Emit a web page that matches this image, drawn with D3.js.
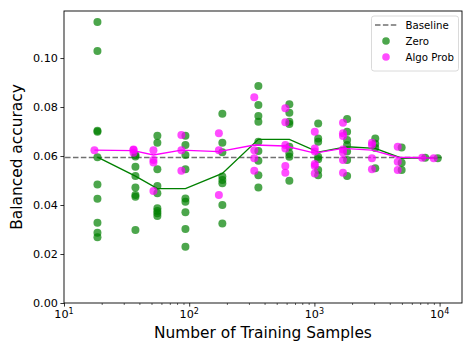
<!DOCTYPE html>
<html><head><meta charset="utf-8">
<script src="https://cdn.jsdelivr.net/npm/d3@7"></script>
<style>body{margin:0;background:#fff}svg{display:block}text{font-family:"DejaVu Sans",sans-serif;fill:#000}</style>
</head><body><div id="chart"></div>
<script>
const zeroSizes = [18.5, 37.2, 55.7, 93.3, 184, 357, 631, 1072, 1825, 3063, 4977, 7675, 9663];
const algoSizes = [17.5, 35.9, 51.8, 86.6, 172.6, 331, 586, 1007, 1692, 2882, 4630, 7262, 8974];
const zeroValues = [
  [0.1147, 0.1029, 0.0703, 0.0699, 0.0595, 0.0484, 0.0426, 0.0328, 0.0287, 0.0268],
  [0.0604, 0.0598, 0.0556, 0.0518, 0.0471, 0.0441, 0.0434, 0.0298],
  [0.0683, 0.0654, 0.0546, 0.0478, 0.0448, 0.0387, 0.0376, 0.0366, 0.0355],
  [0.0683, 0.0645, 0.0604, 0.0546, 0.0427, 0.0413, 0.0370, 0.0302, 0.0230],
  [0.0773, 0.0654, 0.0615, 0.0516, 0.0502, 0.0489, 0.0400, 0.0325],
  [0.0886, 0.0808, 0.0763, 0.0740, 0.0658, 0.0620, 0.0581, 0.0522, 0.0471],
  [0.0811, 0.0777, 0.0740, 0.0731, 0.0638, 0.0611, 0.0597, 0.0499],
  [0.0733, 0.0672, 0.0658, 0.0597, 0.0587, 0.0543, 0.0522],
  [0.0751, 0.0699, 0.0665, 0.0645, 0.0618, 0.0584, 0.0518],
  [0.0672, 0.0650, 0.0633, 0.0550],
  [0.0635, 0.0573, 0.0543],
  [0.0593],
  [0.0591]
];
const algoValues = [
  [0.0624],
  [0.0627, 0.0625, 0.0613],
  [0.0624, 0.0584, 0.0574, 0.0457],
  [0.0686, 0.0624, 0.0540],
  [0.0693, 0.0624, 0.0441],
  [0.0840, 0.0624, 0.0591, 0.0540],
  [0.0795, 0.0738, 0.0645, 0.0631, 0.0559, 0.0532],
  [0.0699, 0.0631, 0.0618, 0.0567, 0.0559, 0.0529],
  [0.0736, 0.0693, 0.0682, 0.0627, 0.0614, 0.0584, 0.0532],
  [0.0654, 0.0645, 0.0591, 0.0546],
  [0.0638, 0.0577, 0.0543],
  [0.0593],
  [0.0591]
];
const zeroLine = [0.0595, 0.0518, 0.0467, 0.0467, 0.0529, 0.0668, 0.0668, 0.0616, 0.0638, 0.0631, 0.0591, 0.0593, 0.0591];
const algoLine = [0.0624, 0.0622, 0.0604, 0.0624, 0.0618, 0.0645, 0.0641, 0.0612, 0.0631, 0.0624, 0.0595, 0.0593, 0.0591];
const baselineValue = 0.0594;
const baselineRange = [10.2, 10400];
const yTicks = [0, 0.02, 0.04, 0.06, 0.08, 0.10];
const xTicks = [10, 100, 1000, 10000];
const xTickExp = ["1", "2", "3", "4"];
const legendLabels = ["Baseline", "Zero", "Algo Prob"];

const W = 474, H = 355;
const L = 64, R = 462, T = 11, B = 303;
const svg = d3.select("#chart").append("svg").attr("width", W).attr("height", H);
const x = d3.scaleLog().domain([10, 15100]).range([L, R]);
const y = d3.scaleLinear().domain([0, 0.1192]).range([B, T]);

const ZC = "#008000", MC = "#ff00ff";
const PR = 4;

// baseline
svg.append("line").attr("x1", x(baselineRange[0])).attr("x2", x(baselineRange[1]))
  .attr("y1", y(baselineValue)).attr("y2", y(baselineValue))
  .attr("stroke", "#707070").attr("stroke-width", 1.3).attr("stroke-dasharray", "5.5,2.4");

function flat(sizes, vals) {
  const out = [];
  vals.forEach((arr, i) => arr.forEach(v => out.push([sizes[i], v])));
  return out;
}
const line = d3.line().x(d => x(d[0])).y(d => y(d[1]));

svg.append("g").selectAll("circle").data(flat(zeroSizes, zeroValues)).join("circle")
  .attr("cx", d => x(d[0])).attr("cy", d => y(d[1])).attr("r", PR)
  .attr("fill", ZC).attr("fill-opacity", 0.7);
svg.append("path").datum(zeroSizes.map((s, i) => [s, zeroLine[i]])).attr("d", line)
  .attr("fill", "none").attr("stroke", ZC).attr("stroke-width", 1.4);
svg.append("g").selectAll("circle").data(flat(algoSizes, algoValues)).join("circle")
  .attr("cx", d => x(d[0])).attr("cy", d => y(d[1])).attr("r", PR)
  .attr("fill", MC).attr("fill-opacity", 0.7);
svg.append("path").datum(algoSizes.map((s, i) => [s, algoLine[i]])).attr("d", line)
  .attr("fill", "none").attr("stroke", MC).attr("stroke-width", 1.4);

// frame
svg.append("rect").attr("x", L).attr("y", T).attr("width", R - L).attr("height", B - T)
  .attr("fill", "none").attr("stroke", "#000").attr("stroke-width", 0.9);

// y axis
const ya = svg.append("g").attr("transform", `translate(${L},0)`)
  .call(d3.axisLeft(y).tickValues(yTicks).tickFormat(d3.format(".2f")).tickSize(3.6).tickPadding(2.5));
ya.select(".domain").remove();
ya.selectAll("text").style("font-size", "11.2px").attr("font-family", "DejaVu Sans");
ya.selectAll("line").attr("stroke-width", 0.8);

// x axis major
const xa = svg.append("g").attr("transform", `translate(0,${B})`)
  .call(d3.axisBottom(x).tickValues(xTicks).tickFormat("").tickSize(3.6));
xa.select(".domain").remove();
xa.selectAll("line").attr("stroke-width", 0.8);
// minor
const minor = [];
for (let e = 1; e <= 4; e++) for (let m = 2; m <= 9; m++) { const v = m * Math.pow(10, e); if (v < 15100) minor.push(v); }
const xm = svg.append("g").attr("transform", `translate(0,${B})`)
  .call(d3.axisBottom(x).tickValues(minor).tickFormat("").tickSize(2));
xm.select(".domain").remove();
xm.selectAll("line").attr("stroke-width", 0.6);

// x tick labels
xTicks.forEach((t, i) => {
  const tx = svg.append("text").attr("x", x(t)).attr("y", 318).attr("text-anchor", "middle")
    .style("font-size", "11.2px");
  tx.append("tspan").text("10");
  tx.append("tspan").attr("dy", -4.5).style("font-size", "8px").text(xTickExp[i]);
});

// axis labels
svg.append("text").attr("x", (L + R) / 2).attr("y", 338).attr("text-anchor", "middle")
  .style("font-size", "15.4px").text("Number of Training Samples");
svg.append("text").attr("transform", `translate(22,${(T + B) / 2}) rotate(-90)`).attr("text-anchor", "middle")
  .style("font-size", "15.4px").text("Balanced accuracy");

// legend
const lg = svg.append("g");
lg.append("rect").attr("x", 371.5).attr("y", 16).attr("width", 87).attr("height", 55).attr("rx", 2.5)
  .attr("fill", "#fff").attr("fill-opacity", 0.8).attr("stroke", "#d0d0d0").attr("stroke-width", 0.8);
const rows = [25, 41, 57];
lg.append("line").attr("x1", 375).attr("x2", 397).attr("y1", rows[0]).attr("y2", rows[0])
  .attr("stroke", "#707070").attr("stroke-width", 1.3).attr("stroke-dasharray", "5.5,2.4");
lg.append("circle").attr("cx", 386).attr("cy", rows[1]).attr("r", 3.8).attr("fill", ZC).attr("fill-opacity", 0.7);
lg.append("circle").attr("cx", 386).attr("cy", rows[2]).attr("r", 3.8).attr("fill", MC).attr("fill-opacity", 0.7);
legendLabels.forEach((s, i) => {
  lg.append("text").attr("x", 405.5).attr("y", rows[i] + 3.6).style("font-size", "10.2px").text(s);
});
</script></body></html>
